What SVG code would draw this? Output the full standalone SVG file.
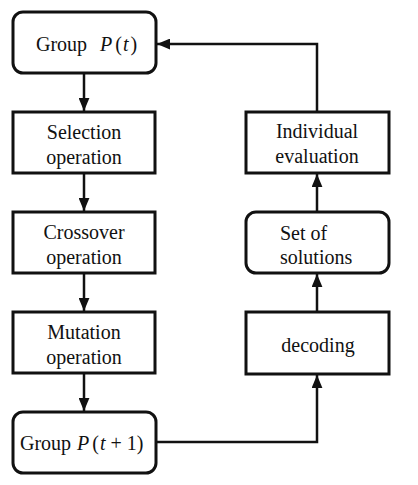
<svg xmlns="http://www.w3.org/2000/svg" width="418" height="485" viewBox="0 0 418 485">
<defs>
<marker id="ah" viewBox="0 0 12 10" refX="12" refY="5" markerWidth="13" markerHeight="11" markerUnits="userSpaceOnUse" orient="auto">
<path d="M0,0 L12,5 L0,10 Z" fill="#111"/>
</marker>
</defs>
<style>
.box{fill:#fff;stroke:#111;stroke-width:3}
.t{font-family:"Liberation Serif","Times New Roman",serif;font-size:20px;fill:#111}
.i{font-style:italic}
.c{fill:none;stroke:#111;stroke-width:2.5;marker-end:url(#ah)}
</style>
<rect width="418" height="485" fill="#fff"/>
<g id="connectors">
<path class="c" d="M84,73 V111"/>
<path class="c" d="M84,173 V211"/>
<path class="c" d="M84,273 V311"/>
<path class="c" d="M84,373 V411"/>
<path class="c" d="M156,442 H317 V375"/>
<path class="c" d="M317,312 V274"/>
<path class="c" d="M317,212 V174"/>
<path class="c" d="M317,112 V44 H157"/>
</g>
<g id="groupPt">
<rect class="box" x="13" y="12" width="143" height="61" rx="10"/>
<text class="t" x="36" y="51">Group <tspan class="i" dx="8">P</tspan><tspan dx="3">(</tspan><tspan class="i" dx="1">t</tspan><tspan dx="2">)</tspan></text>
</g>
<g id="selection">
<rect class="box" x="13" y="112" width="142" height="61"/>
<text class="t" x="84" y="139" text-anchor="middle">Selection</text>
<text class="t" x="84" y="164" text-anchor="middle">operation</text>
</g>
<g id="crossover">
<rect class="box" x="13" y="212" width="142" height="61"/>
<text class="t" x="84" y="239" text-anchor="middle">Crossover</text>
<text class="t" x="84" y="264" text-anchor="middle">operation</text>
</g>
<g id="mutation">
<rect class="box" x="13" y="312" width="142" height="61"/>
<text class="t" x="84" y="339" text-anchor="middle">Mutation</text>
<text class="t" x="84" y="364" text-anchor="middle">operation</text>
</g>
<g id="groupPt1">
<rect class="box" x="13" y="412" width="143" height="61" rx="10"/>
<text class="t" x="20" y="450">Group <tspan class="i" dx="1">P</tspan><tspan dx="3">(</tspan><tspan class="i" dx="1">t</tspan><tspan dx="5">+</tspan><tspan dx="5">1)</tspan></text>
</g>
<g id="decoding">
<rect class="box" x="246" y="312" width="143" height="62"/>
<text class="t" x="318" y="352" text-anchor="middle">decoding</text>
</g>
<g id="solutions">
<rect class="box" x="246" y="212" width="143" height="61" rx="10"/>
<text class="t" x="280" y="240">Set of</text>
<text class="t" x="280" y="264">solutions</text>
</g>
<g id="evaluation">
<rect class="box" x="246" y="112" width="143" height="61"/>
<text class="t" x="317" y="138" text-anchor="middle">Individual</text>
<text class="t" x="317" y="163" text-anchor="middle">evaluation</text>
</g>
</svg>
